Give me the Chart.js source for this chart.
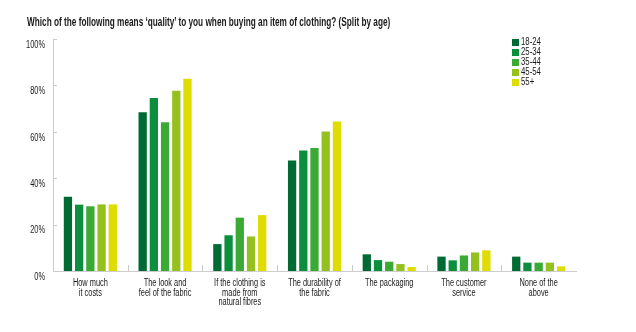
<!DOCTYPE html>
<html lang="en">
<head>
<meta charset="UTF-8">
<title>Quality by age</title>
<script src="https://cdn.jsdelivr.net/npm/chart.js"></script>
<style>
    * { margin: 0; padding: 0; box-sizing: border-box; }
    body { background: #fff; width: 636px; height: 332px; overflow: hidden; }
    .wrap { position: relative; width: 636px; height: 332px; }
    .title {
        position: absolute; left: 27px; top: 14px;
        font: bold 13px 'Liberation Sans', Arial, sans-serif;
        color: #1a1a1a; white-space: nowrap; transform-origin: 0 50%;
    }
    .legend { position: absolute; left: 512px; top: 37px; font: 10px 'Liberation Sans', Arial, sans-serif; color: #1a1a1a; }
    .legend div { height: 10px; line-height: 10px; display: flex; align-items: center; }
    .legend span.sw { width: 7px; height: 7px; margin-right: 2px; display: inline-block; }
    .legend span.tx { display: inline-block; transform: scaleX(0.78); transform-origin: 0 50%; }
</style>
</head>
<body>
<div class="wrap">
    <canvas id="chart" width="636" height="332"></canvas>
    <div class="title" id="title">Which of the following means ‘quality’ to you when buying an item of clothing? (Split by age)</div>
    <div class="legend" id="legend"></div>
</div>
<script>
    const categories = [
        ['How much', 'it costs'],
        ['The look and', 'feel of the fabric'],
        ['If the clothing is', 'made from', 'natural fibres'],
        ['The durability of', 'the fabric'],
        ['The packaging'],
        ['The customer', 'service'],
        ['None of the', 'above']
    ];
    const ageGroups = ['18-24', '25-34', '35-44', '45-54', '55+'];
    const groupColors = ['#006a35', '#0b8f3d', '#3aaa35', '#95c11f', '#dedc00'];

    const age18to24 = [32, 68.4, 11.6, 47.6, 7.2, 6.2, 6.2];
    const age25to34 = [28.6, 74.6, 15.4, 51.9, 4.7, 4.6, 3.6];
    const age35to44 = [27.9, 64.1, 23, 53, 4, 6.7, 3.6];
    const age45to54 = [28.7, 77.7, 14.9, 60.1, 3, 8, 3.6];
    const age55plus = [28.7, 82.9, 24.1, 64.4, 1.7, 8.9, 2];
    const seriesValues = [age18to24, age25to34, age35to44, age45to54, age55plus];

    const yTicks = [0, 20, 40, 60, 80, 100];

    const labelFont = "'Liberation Sans', Arial, sans-serif";

    // title squeezed to look like the condensed face of the original
    const title = document.getElementById('title');
    title.style.transform = `scaleX(${363 / title.offsetWidth})`;

    // legend
    const legend = document.getElementById('legend');
    ageGroups.forEach((g, i) => {
        const row = document.createElement('div');
        row.innerHTML = `<span class="sw" style="background:${groupColors[i]}"></span><span class="tx">${g}</span>`;
        legend.appendChild(row);
    });

    // narrow all canvas text around its anchor point (keeps alignment)
    const canvas = document.getElementById('chart');
    const c2d = canvas.getContext('2d');
    const origFillText = c2d.fillText.bind(c2d);
    c2d.fillText = function (text, x, y, maxWidth) {
        this.save();
        this.translate(x, y);
        this.scale(0.74, 1);
        origFillText(text, 0, 0);
        this.restore();
    };

    // small tick marks pointing into the plot area
    const innerTicks = {
        id: 'innerTicks',
        afterDraw(chart) {
            const ctx = chart.ctx;
            const x = chart.scales.x, y = chart.scales.y;
            ctx.save();
            ctx.strokeStyle = '#cccccc';
            ctx.lineWidth = 1;
            ctx.beginPath();
            yTicks.forEach(v => {
                const py = Math.round(y.getPixelForValue(v)) + 0.5;
                ctx.moveTo(x.left, py);
                ctx.lineTo(x.left + 4, py);
            });
            for (let i = 1; i < categories.length; i++) {
                const px = Math.round((x.getPixelForTick(i) + x.getPixelForTick(i - 1)) / 2) + 0.5;
                ctx.moveTo(px, y.bottom);
                ctx.lineTo(px, y.bottom - 6);
            }
            ctx.stroke();
            ctx.restore();
        }
    };

    new Chart(canvas, {
        type: 'bar',
        data: {
            labels: categories,
            datasets: ageGroups.map((g, i) => ({
                label: g,
                data: seriesValues[i],
                backgroundColor: groupColors[i],
                borderWidth: 0,
                categoryPercentage: 0.75,
                barPercentage: 0.74
            }))
        },
        options: {
            responsive: false,
            animation: false,
            layout: { padding: { left: 10, right: 60, top: 39, bottom: 0 } },
            plugins: { legend: { display: false }, title: { display: false }, tooltip: { enabled: false } },
            scales: {
                x: {
                    grid: { display: false },
                    border: { color: '#cccccc' },
                    ticks: {
                        color: '#1a1a1a', font: { family: labelFont, size: 10, lineHeight: 0.93 },
                        padding: 0, maxRotation: 0, autoSkip: false
                    },
                    afterFit: s => { s.height = 61; }
                },
                y: {
                    min: 0, max: 100,
                    afterBuildTicks: s => { s.ticks = yTicks.map(v => ({ value: v })); },
                    grid: { display: false },
                    border: { color: '#cccccc' },
                    ticks: {
                        color: '#1a1a1a', font: { family: labelFont, size: 10 }, padding: 0, labelOffset: 6,
                        callback: v => v + '%'
                    },
                    afterFit: s => { s.width = 43; }
                }
            }
        },
        plugins: [innerTicks]
    });
</script>
</body>
</html>
